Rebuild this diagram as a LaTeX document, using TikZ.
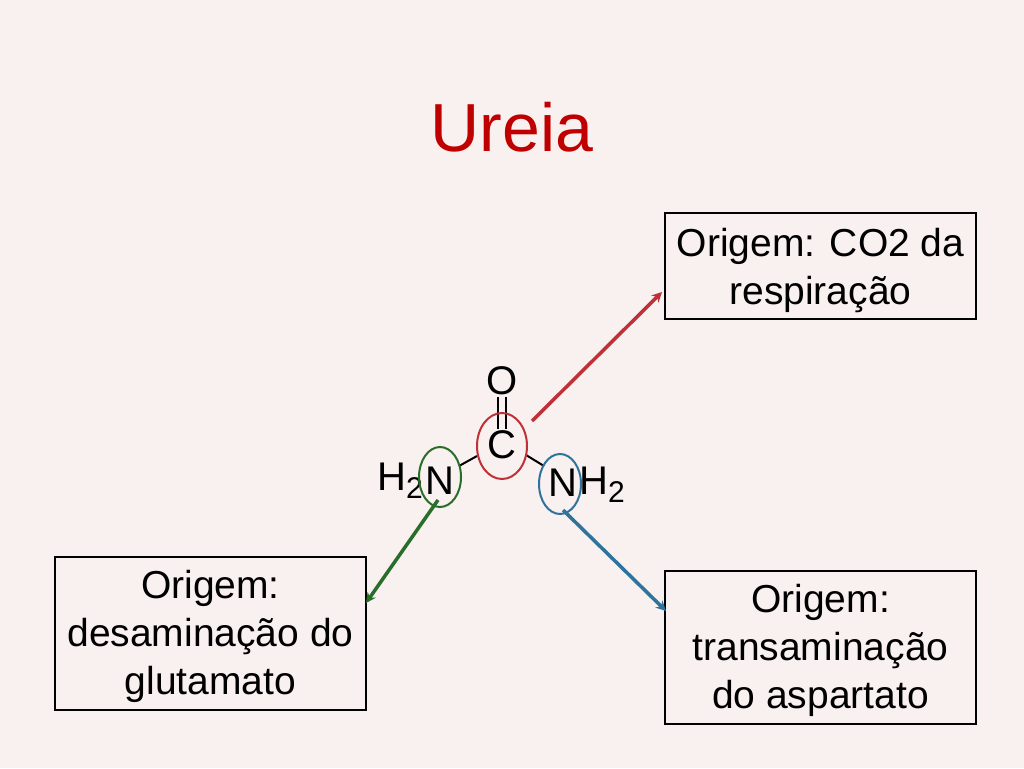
\documentclass[tikz,border=0pt]{standalone}
\usepackage{fontspec}
\setmainfont{Liberation Sans}
\usetikzlibrary{arrows.meta}
\begin{document}
\begin{tikzpicture}[x=1pt,y=-1pt,
 box/.style={draw,line width=1.2pt,align=center,font=\fontsize{39}{48}\selectfont,inner sep=0pt},
 atom/.style={font=\fontsize{40}{40}\selectfont,inner sep=0pt},
 arr/.style={line width=3.5pt,-{Stealth[length=10pt,width=10pt]}}]
\fill[fill={rgb,255:red,249;green,240;blue,240}] (0,0) rectangle (1024,768);
\useasboundingbox (0,0) rectangle (1024,768);
\definecolor{tred}{RGB}{192,0,0}
\definecolor{ared}{RGB}{190,50,55}
\definecolor{agreen}{RGB}{40,110,40}
\definecolor{ablue}{RGB}{45,115,155}
\node[font=\fontsize{68}{68}\selectfont,text=tred] (title) at (512,127) {Ureia};
\draw[box] (665,213) rectangle (976,319);
\node[box,draw=none] (b1) at (820.5,270) {Origem: CO2 da\\respiração};
\draw[box] (55,557) rectangle (366,710);
\node[box,draw=none] (b2) at (210.5,636) {Origem:\\desaminação do\\glutamato};
\draw[box] (665,571) rectangle (976,724);
\node[box,draw=none] (b3) at (820.5,650) {Origem:\\transaminação\\do aspartato};
\node[atom] (O) at (502,381) {O};
\node[atom] (C) at (502,445) {C};
\node[atom] (N1) at (440,481) {N};
\node[atom] (H1) at (400,481) {H\raisebox{-8pt}{\fontsize{30}{30}\selectfont 2}};
\node[atom] (N2) at (563,483) {N};
\node[atom] (H2) at (602,485) {H\raisebox{-8pt}{\fontsize{30}{30}\selectfont 2}};
\draw[line width=2.5pt] (498,397) -- (498,429) (506,397) -- (506,429);
\draw[line width=2pt] (459,466) -- (477,456) (526,455) -- (544,466);
\draw[ared,line width=2pt] (502,446) ellipse [x radius=25,y radius=33];
\draw[agreen,line width=2pt] (440,477) ellipse [x radius=21,y radius=30];
\draw[ablue,line width=2pt] (560,484) ellipse [x radius=21,y radius=30];
\coordinate (r0) at (532,421); \coordinate (r1) at (662,292);
\coordinate (g0) at (438,500); \coordinate (g1) at (366,603);
\coordinate (u0) at (563,510); \coordinate (u1) at (666,611);
\draw[arr,ared] (r0) -- (r1);
\draw[arr,agreen] (g0) -- (g1);
\draw[arr,ablue] (u0) -- (u1);
\end{tikzpicture}
\end{document}
